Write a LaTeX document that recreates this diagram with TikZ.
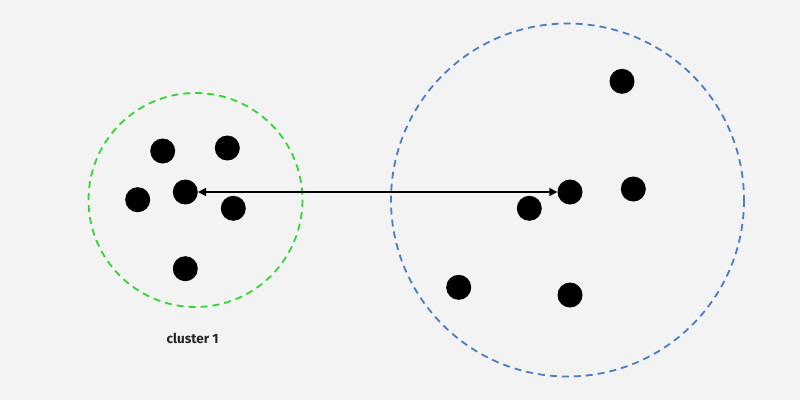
\documentclass[tikz,border=0pt]{standalone}
\usepackage{fontspec}
\setmainfont{Fira Sans}
\usetikzlibrary{arrows.meta}
\definecolor{bg}{HTML}{F3F3F3}
\definecolor{cgreen}{HTML}{33D633}
\definecolor{cblue}{HTML}{4A7EC2}
\tikzset{
  pt/.style={circle,fill=black,minimum size=25pt,inner sep=0pt},
  clus/.style={line width=1.8pt,dash pattern=on 7pt off 5pt},
  lbl/.style={font=\fontsize{13.5}{16}\selectfont\bfseries,text=black!85}
}
\begin{document}
\begin{tikzpicture}[x=1pt,y=-1pt]
\fill[bg] (0,0) rectangle (800,400);
\useasboundingbox (0,0) rectangle (800,400);
\draw[clus,cgreen] (195.5,200) circle[radius=107];
\draw[clus,cblue] (567.5,200) circle[radius=176.5];
\node[pt] (a1) at (162.7,151) {};
\node[pt] (a2) at (227.3,148) {};
\node[pt] (a3) at (137.7,199.7) {};
\node[pt] (a4) at (185.3,192) {};
\node[pt] (a5) at (233.3,208.3) {};
\node[pt] (a6) at (185.3,268.7) {};
\node[pt] (b1) at (622,81.3) {};
\node[pt] (b2) at (570,192) {};
\node[pt] (b3) at (633.3,189) {};
\node[pt] (b4) at (529.3,208.3) {};
\node[pt] (b5) at (458.7,287.3) {};
\node[pt] (b6) at (570,295) {};
\draw[line width=1.6pt,{Triangle[length=8pt,width=8pt]}-{Triangle[length=8pt,width=8pt]}] (a4) -- (b2);
\node[lbl] (l1) at (192.7,338) {cluster 1};
\end{tikzpicture}
\end{document}
